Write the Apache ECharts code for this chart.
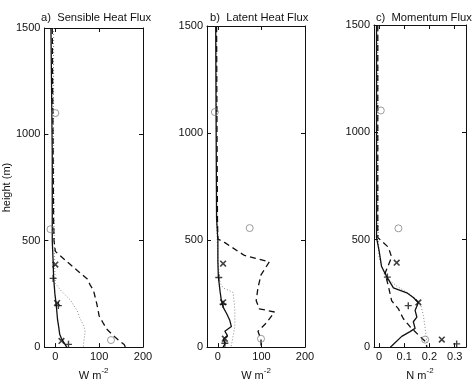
<!DOCTYPE html>
<html>
<head>
<meta charset="utf-8">
<script src="https://cdn.jsdelivr.net/npm/echarts@6/dist/echarts.min.js"></script>
<style>
html,body{margin:0;padding:0;background:#fff;}
#chart{width:474px;height:386px;}
</style>
</head>
<body>
<div id="chart"></div>
<script>
// ---- Data: [flux, height(m)] ----
const panelTitles = ['a)  Sensible Heat Flux', 'b)  Latent Heat Flux', 'c)  Momentum Flux'];
const xUnits = ['W m', 'W m', 'N m'];
const heightTicks = [0, 500, 1000, 1500];
const heatFluxTicks = [0, 100, 200];
const momentumTicks = [0, 0.1, 0.2, 0.3];

const shSolid = [[-10,1500],[-9,1300],[-8,1100],[-7,900],[-7,700],[-7,500],[-5,400],[-4,330],[-1,250],[2,200],[5,130],[8,90],[10,60],[14,40],[20,20],[26,0]];
const shDashed = [[-7,1500],[-6,1200],[-5,900],[-4,600],[-3,500],[0,450],[26,403],[50,360],[73,320],[80,290],[87,267],[95,200],[100,146],[110,110],[117,85],[136,47],[157,12],[160,0]];
const shDotted = [[-4,1500],[-4,1000],[-3,600],[-2,400],[0,300],[15,260],[34,222],[50,170],[57,131],[65,100],[68,71],[64,10],[64,0]];
const shCircles = [[0,1100],[-11,554],[127,33]];
const shCrosses = [[0,388],[4,207],[14,29]];
const shPluses = [[-5,323],[7,195],[30,13]];

const lhSolid = [[-5,1500],[-4,1000],[-3,600],[0,500],[0,400],[1,330],[5,260],[8,217],[12,187],[20,157],[27,127],[31,96],[16,74],[22,54],[12,36],[17,18],[12,0]];
const lhDashed = [[-3,1500],[-2,1000],[-1,600],[0,505],[16,488],[61,428],[118,398],[99,337],[92,277],[88,217],[95,179],[130,164],[111,112],[92,74],[99,36],[99,0]];
const lhDotted = [[-4,1500],[-3,600],[0,400],[5,300],[12,277],[35,255],[39,172],[39,96],[31,9],[30,0]];
const lhCircles = [[-7,1098],[73,556],[99,39]];
const lhCrosses = [[12,390],[12,209],[16,39]];
const lhPluses = [[2,325],[12,200],[16,18]];

const mfSolid = [[-0.01,1500],[-0.01,1000],[-0.01,510],[0,450],[0.01,375],[0.03,329],[0.057,276],[0.11,253],[0.136,231],[0.156,208],[0.143,171],[0.15,140],[0.136,118],[0.143,87],[0.123,72],[0.09,50],[0.05,5],[0.045,0]];
const mfDashed = [[-0.005,1500],[-0.005,1000],[-0.005,510],[0.037,465],[0.05,419],[0.024,344],[0.037,284],[0.05,216],[0.077,178],[0.096,133],[0.123,95],[0.156,57],[0.183,27],[0.19,0]];
const mfDotted = [[-0.005,1500],[-0.005,600],[0,419],[0.024,329],[0.07,284],[0.123,246],[0.163,208],[0.176,148],[0.183,87],[0.19,20],[0.19,0]];
const mfCircles = [[0.007,1102],[0.077,553],[0.183,35]];
const mfCrosses = [[0.07,393],[0.156,208],[0.249,35]];
const mfPluses = [[0.033,326],[0.116,193],[0.308,15]];

// ---- Layout ----
const grids = [
  {left:44, top:28, width:99, height:331},
  {left:207, top:26, width:98, height:332},
  {left:374, top:25, width:92, height:331}
];
const xRanges = [[-25,200],[-25,200],[-0.02,0.345]];
const xTicks = [heatFluxTicks, heatFluxTicks, momentumTicks];
const titlePos = [36, 205, 371];
const panels = [
  {solid:shSolid, dashed:shDashed, dotted:shDotted, circles:shCircles, crosses:shCrosses, pluses:shPluses},
  {solid:lhSolid, dashed:lhDashed, dotted:lhDotted, circles:lhCircles, crosses:lhCrosses, pluses:lhPluses},
  {solid:mfSolid, dashed:mfDashed, dotted:mfDotted, circles:mfCircles, crosses:mfCrosses, pluses:mfPluses}
];

const FONT = 'Liberation Sans, Arial, Helvetica, sans-serif';
const plusPath = 'path://M4,0h2v4h4v2h-4v4h-2v-4h-4v-2h4z';

const xAxes = [], yAxes = [], series = [], titles = [];
for (let i = 0; i < 3; i++) {
  titles.push({text: panelTitles[i], left: titlePos[i], top: 7,
    textStyle: {fontFamily: FONT, fontSize: 11.2, fontWeight: 'normal', color: '#111'}});
  const common = {
    gridIndex: i, type: 'value', min: xRanges[i][0], max: xRanges[i][1],
    axisLine: {show: true, onZero: false, lineStyle: {color: '#111', width: 1}},
    splitLine: {show: false}
  };
  xAxes.push(Object.assign({}, common, {
    position: 'bottom',
    axisTick: {show: true, inside: true, length: 4, customValues: xTicks[i], lineStyle: {color: '#111'}},
    axisLabel: {show: true, margin: 4, customValues: xTicks[i], fontFamily: FONT, fontSize: 11, color: '#111',
      formatter: v => String(v)},
    name: '{a|' + xUnits[i] + '}{s|-2}', nameLocation: 'middle', nameGap: 15,
    nameTextStyle: {rich: {
      a: {fontFamily: FONT, fontSize: 11, color: '#111', padding: [3,0,0,0]},
      s: {fontFamily: FONT, fontSize: 8, color: '#111', verticalAlign: 'top', padding: [0,0,0,0]}
    }}
  }));
  xAxes.push(Object.assign({}, common, {
    position: 'top',
    axisTick: {show: true, inside: true, length: 4, customValues: xTicks[i], lineStyle: {color: '#111'}},
    axisLabel: {show: false}
  }));
  const yCommon = {
    gridIndex: i, type: 'value', min: 0, max: 1500, interval: 500,
    axisLine: {show: true, onZero: false, lineStyle: {color: '#111', width: 1}},
    axisTick: {show: true, inside: true, length: 4, customValues: heightTicks, lineStyle: {color: '#111'}},
    splitLine: {show: false}
  };
  yAxes.push(Object.assign({}, yCommon, {
    position: 'left',
    axisLabel: {show: true, margin: 4, customValues: heightTicks, fontFamily: FONT, fontSize: 11, color: '#111',
      formatter: v => String(v)},
    name: i === 0 ? 'height (m)' : '', nameLocation: 'middle', nameGap: 27,
    nameTextStyle: {fontFamily: FONT, fontSize: 11, color: '#111'}
  }));
  yAxes.push(Object.assign({}, yCommon, {position: 'right', axisLabel: {show: false}}));

  const p = panels[i];
  const xi = 2 * i, yi = 2 * i;
  series.push({type: 'line', xAxisIndex: xi, yAxisIndex: yi, data: p.dotted, symbol: 'none',
    lineStyle: {color: '#8a8a8a', width: 1, type: [1, 2]}, z: 2, silent: true});
  series.push({type: 'line', xAxisIndex: xi, yAxisIndex: yi, data: p.dashed, symbol: 'none',
    lineStyle: {color: '#111', width: 1.3, type: [6, 4]}, z: 3, silent: true});
  series.push({type: 'line', xAxisIndex: xi, yAxisIndex: yi, data: p.solid, symbol: 'none',
    lineStyle: {color: '#111', width: 1.3}, z: 4, silent: true});
  series.push({type: 'scatter', xAxisIndex: xi, yAxisIndex: yi, data: p.circles, symbol: 'circle',
    symbolSize: 7, clip: false, itemStyle: {color: 'rgba(255,255,255,0)', borderColor: '#777', borderWidth: 0.9}, z: 5, silent: true});
  series.push({type: 'scatter', xAxisIndex: xi, yAxisIndex: yi, data: p.crosses, symbol: plusPath,
    symbolSize: 8, symbolRotate: 45, clip: false, itemStyle: {color: '#111'}, z: 5, silent: true});
  series.push({type: 'scatter', xAxisIndex: xi, yAxisIndex: yi, data: p.pluses, symbol: plusPath,
    symbolSize: 7, clip: false, itemStyle: {color: '#111'}, z: 5, silent: true});
}

const chart = echarts.init(document.getElementById('chart'), null, {renderer: 'canvas'});
chart.setOption({
  animation: false,
  backgroundColor: '#fff',
  title: titles,
  grid: grids,
  xAxis: xAxes,
  yAxis: yAxes,
  series: series
});
</script>
</body>
</html>
